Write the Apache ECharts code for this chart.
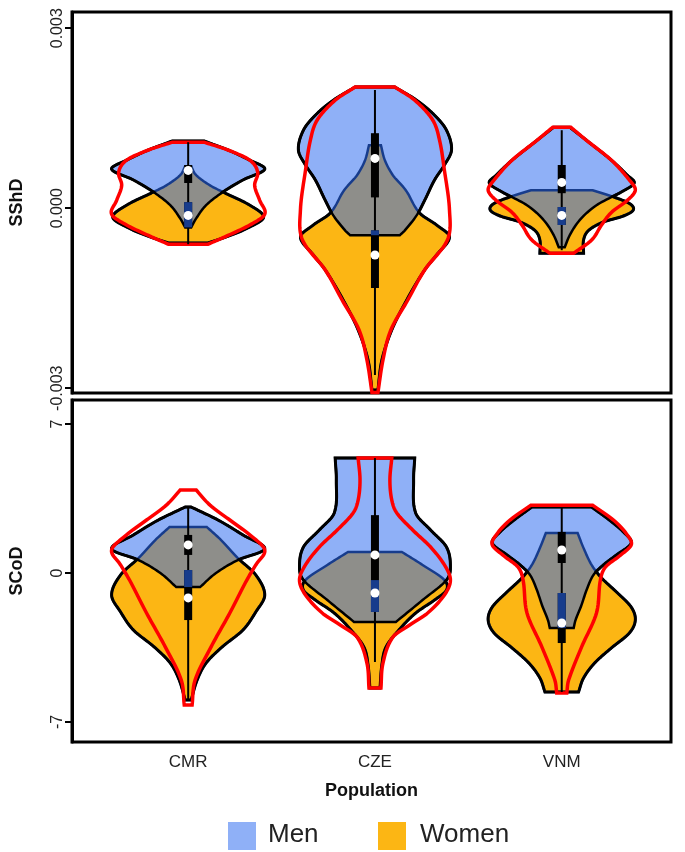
<!DOCTYPE html>
<html>
<head>
<meta charset="utf-8">
<script src="https://cdn.jsdelivr.net/npm/echarts@6/dist/echarts.min.js"></script>
<style>html,body{margin:0;padding:0;background:#fff}#main{width:685px;height:852px}</style>
</head>
<body>
<div id="main"></div>
<script>
const populations = ['CMR', 'CZE', 'VNM'];

// violin outlines: [value, half width in category units], top to bottom
const sshdMen = [
  [[0.00112,0.085],[0.00097,0.213],[0.00080,0.33],[0.00065,0.41],[0.00047,0.293],[0.00027,0.186],[0.00005,0.096],[-0.00017,0.043],[-0.00032,0.016]],
  [[0.00202,0.106],[0.00180,0.223],[0.00155,0.319],[0.00130,0.383],[0.00097,0.41],[0.00072,0.372],[0.00047,0.319],[0.00013,0.266],[-0.00012,0.223],[-0.00037,0.16],[-0.00045,0.133]],
  [[0.00135,0.043],[0.00113,0.133],[0.00080,0.266],[0.00055,0.351],[0.00042,0.388],[0.00027,0.319],[0.00005,0.186],[-0.00020,0.096],[-0.00045,0.043],[-0.00065,0.016]]
];
const sshdWomen = [
  [[0.00070,0.016],[0.00055,0.043],[0.00038,0.117],[0.00027,0.186],[0.00005,0.33],[-0.00015,0.404],[-0.00033,0.319],[-0.00048,0.202],[-0.00058,0.106]],
  [[0.00105,0.032],[0.00080,0.053],[0.00055,0.096],[0.00030,0.165],[-0.00008,0.239],[-0.00028,0.33],[-0.00048,0.399],[-0.00078,0.33],[-0.00103,0.266],[-0.00153,0.17],[-0.00203,0.09],[-0.00253,0.037],[-0.00303,0.016]],
  [[0.00030,0.165],[0.00020,0.266],[0.00008,0.362],[-0.00003,0.383],[-0.00013,0.33],[-0.00023,0.223],[-0.00037,0.144],[-0.00053,0.117],[-0.00075,0.117]]
];
const sshdPooled = [
  [[0.00110,0.085],[0.00097,0.213],[0.00080,0.33],[0.00060,0.372],[0.00038,0.356],[0.00013,0.383],[-0.00010,0.41],[-0.00028,0.33],[-0.00047,0.202],[-0.00060,0.106]],
  [[0.00202,0.106],[0.00180,0.213],[0.00147,0.309],[0.00113,0.346],[0.00063,0.372],[-0.00003,0.399],[-0.00053,0.388],[-0.00103,0.266],[-0.00153,0.176],[-0.00203,0.085],[-0.00253,0.043],[-0.00307,0.016]],
  [[0.00135,0.048],[0.00113,0.133],[0.00080,0.266],[0.00047,0.362],[0.00030,0.394],[0.00013,0.351],[-0.00007,0.266],[-0.00028,0.213],[-0.00053,0.16],[-0.00075,0.064]]
];
// boxes: [whisker top, q3, median, q1, whisker bottom]
const sshdMenBox = [[0.00110,0.00072,0.00063,0.00042,0.00042],[0.00197,0.00125,0.00083,0.00018,0.00018],[0.00130,0.00072,0.00043,0.00025,0.00025]];
const sshdWomenBox = [[0.00010,0.00010,-0.00012,-0.00032,-0.00060],[-0.00037,-0.00037,-0.00078,-0.00133,-0.00278],[0.00002,0.00002,-0.00012,-0.00028,-0.00070]];

const scodMen = [
  [[3.10,0.016],[2.49,0.16],[1.79,0.293],[1.13,0.41],[0.61,0.266],[0,0.149],[-0.66,0.064]],
  [[5.40,0.213],[4.37,0.207],[2.82,0.218],[2.02,0.298],[1.22,0.383],[0.28,0.404],[-0.33,0.383],[-1.27,0.255],[-2.30,0.112]],
  [[3.10,0.16],[2.49,0.255],[1.93,0.33],[1.41,0.372],[0.85,0.293],[0.38,0.223],[-0.09,0.17],[-0.80,0.133],[-1.50,0.106],[-2.21,0.074],[-2.58,0.064]]
];
const scodWomen = [
  [[2.16,0.10],[1.55,0.176],[0.70,0.266],[-0.09,0.362],[-1.03,0.41],[-1.83,0.362],[-2.68,0.293],[-3.48,0.181],[-4.23,0.096],[-5.03,0.048],[-5.97,0.016]],
  [[0.99,0.144],[0.38,0.255],[-0.33,0.372],[-0.80,0.383],[-1.27,0.319],[-1.88,0.218],[-2.68,0.128],[-3.48,0.059],[-4.32,0.037],[-5.40,0.027]],
  [[1.88,0.085],[1.17,0.117],[0.38,0.16],[-0.23,0.213],[-0.89,0.293],[-1.60,0.372],[-2.21,0.394],[-2.82,0.362],[-3.52,0.266],[-4.23,0.176],[-4.93,0.117],[-5.59,0.09]]
];
const scodPooled = [
  [[3.90,0.043],[3.19,0.117],[2.49,0.223],[1.79,0.33],[1.08,0.41],[0.38,0.362],[-0.33,0.314],[-1.88,0.223],[-3.48,0.122],[-5.03,0.037],[-6.20,0.021]],
  [[5.40,0.09],[4.37,0.08],[3.43,0.09],[2.82,0.117],[2.02,0.202],[1.22,0.298],[0.38,0.372],[-0.33,0.404],[-1.03,0.372],[-1.88,0.282],[-2.44,0.186],[-3.01,0.096],[-4.23,0.043],[-5.40,0.032]],
  [[3.19,0.165],[2.49,0.277],[1.79,0.351],[1.32,0.372],[0.80,0.309],[0.28,0.234],[-0.33,0.207],[-1.88,0.186],[-3.48,0.106],[-5.03,0.037],[-5.64,0.027]]
];
const scodMenBox = [[3.10,1.79,1.32,0.85,0.85],[5.40,2.72,0.85,-0.33,-0.33],[3.10,1.93,1.08,0.47,0.47]];
const scodWomenBox = [[0.14,0.14,-1.17,-2.21,-5.97],[-0.33,-0.33,-0.94,-1.83,-4.18],[-0.94,-0.94,-2.35,-3.29,-5.59]];

const BLUE = '#8fb0f7', ORANGE = '#fcb614', GREY = '#8e8e8a', NAVY = '#173c8c', RED = '#ff0000';

// smooth outline: cubic Hermite of width along value
function smooth(shape) {
  const n = shape.length, out = [];
  const tan = i => {
    const a = shape[Math.max(0, i - 1)], b = shape[Math.min(n - 1, i + 1)];
    return (b[1] - a[1]) / (b[0] - a[0]);
  };
  for (let i = 0; i < n - 1; i++) {
    const p = shape[i], q = shape[i + 1], h = q[0] - p[0];
    const m0 = tan(i) * h, m1 = tan(i + 1) * h;
    for (let s = 0; s < 12; s++) {
      const t = s / 12, t2 = t * t, t3 = t2 * t;
      const w = (2*t3 - 3*t2 + 1) * p[1] + (t3 - 2*t2 + t) * m0 + (-2*t3 + 3*t2) * q[1] + (t3 - t2) * m1;
      out.push([p[0] + t * h, Math.max(0.01, w)]);
    }
  }
  out.push(shape[n - 1]);
  return out;
}
function hwAt(shape, v) {
  const n = shape.length;
  if (v > shape[0][0] + 1e-12 || v < shape[n - 1][0] - 1e-12) return 0;
  for (let i = 0; i < n - 1; i++) {
    const a = shape[i], b = shape[i + 1];
    if (v <= a[0] + 1e-12 && v >= b[0] - 1e-12) {
      const t = a[0] === b[0] ? 0 : (a[0] - v) / (a[0] - b[0]);
      return a[1] + t * (b[1] - a[1]);
    }
  }
  return shape[n - 1][1];
}
function grid(lo, hi, shapes) {
  let vs = [];
  for (let i = 0; i <= 200; i++) vs.push(hi - (hi - lo) * i / 200);
  shapes.forEach(s => s.forEach(p => { if (p[0] <= hi && p[0] >= lo) vs.push(p[0]); }));
  return vs.sort((a, b) => b - a);
}
function combine(a, b, fn, inter) {
  const lo = inter ? Math.max(a[a.length-1][0], b[b.length-1][0]) : Math.min(a[a.length-1][0], b[b.length-1][0]);
  const hi = inter ? Math.min(a[0][0], b[0][0]) : Math.max(a[0][0], b[0][0]);
  if (lo >= hi) return null;
  return grid(lo, hi, [a, b]).map(v => [v, fn(hwAt(a, v), hwAt(b, v))]);
}
function pts(api, cx, s) {
  const r = s.map(p => api.coord([cx + p[1], p[0]]));
  const l = s.slice().reverse().map(p => api.coord([cx - p[1], p[0]]));
  return r.concat(l);
}
function makeRender(men, women, pooled, menBox, womenBox) {
  return function (params, api) {
    const ch = [];
    for (let k = 0; k < 3; k++) {
      const cx = k + 1;
      const m = smooth(men[k]), w = smooth(women[k]), pl = smooth(pooled[k]);
      const inter = combine(m, w, Math.min, true);
      const uni = combine(m, w, Math.max, false);
      ch.push({type: 'polygon', shape: {points: pts(api, cx, w)}, style: {fill: ORANGE}});
      ch.push({type: 'polygon', shape: {points: pts(api, cx, m)}, style: {fill: BLUE}});
      if (inter) ch.push({type: 'polygon', shape: {points: pts(api, cx, inter)}, style: {fill: GREY}});
      ch.push({type: 'polygon', shape: {points: pts(api, cx, w)}, style: {fill: null, stroke: NAVY, lineWidth: 2.5}});
      ch.push({type: 'polygon', shape: {points: pts(api, cx, m)}, style: {fill: null, stroke: '#000', lineWidth: 2.5}});
      ch.push({type: 'polygon', shape: {points: pts(api, cx, uni)}, style: {fill: null, stroke: '#000', lineWidth: 3}});
      ch.push({type: 'polygon', shape: {points: pts(api, cx, pl)}, style: {fill: null, stroke: RED, lineWidth: 3.5}});
      const mb = menBox[k], wb = womenBox[k];
      const top = Math.max(mb[0], wb[0]), bot = Math.min(mb[4], wb[4]);
      const p1 = api.coord([cx, top]), p2 = api.coord([cx, bot]);
      ch.push({type: 'line', shape: {x1: p1[0], y1: p1[1], x2: p2[0], y2: p2[1]}, style: {stroke: '#000', lineWidth: 2}});
      // women box: navy part inside men's violin, black below
      const mBottom = m[m.length - 1][0];
      const a = api.coord([cx, wb[1]]), b = api.coord([cx, wb[3]]);
      ch.push({type: 'line', shape: {x1: a[0], y1: a[1], x2: b[0], y2: b[1]}, style: {stroke: '#000', lineWidth: 8}});
      if (wb[1] > mBottom) {
        const c = api.coord([cx, Math.max(mBottom, wb[3])]);
        ch.push({type: 'line', shape: {x1: a[0], y1: a[1], x2: c[0], y2: c[1]}, style: {stroke: NAVY, lineWidth: 8}});
      }
      const ma = api.coord([cx, mb[1]]), mbb = api.coord([cx, mb[3]]);
      ch.push({type: 'line', shape: {x1: ma[0], y1: ma[1], x2: mbb[0], y2: mbb[1]}, style: {stroke: '#000', lineWidth: 8}});
      [mb[2], wb[2]].forEach(md => {
        const c = api.coord([cx, md]);
        ch.push({type: 'circle', shape: {cx: c[0], cy: c[1], r: 4.5}, style: {fill: '#fff'}});
      });
    }
    return {type: 'group', children: ch};
  };
}

const chart = echarts.init(document.getElementById('main'));
const xCommon = {type: 'value', min: 0.378, max: 3.585, splitLine: {show: false}, axisLine: {show: false}};
const yCommon = {
  type: 'value', splitLine: {show: false},
  axisLine: {show: true, lineStyle: {color: '#000', width: 3}},
  axisTick: {show: true, length: 7, lineStyle: {color: '#000', width: 2}},
  axisLabel: {rotate: 90, margin: 6, color: '#222', fontSize: 16, fontFamily: 'Liberation Sans'},
  nameLocation: 'middle', nameGap: 46,
  nameTextStyle: {fontWeight: 'bold', fontSize: 18, color: '#111', fontFamily: 'Liberation Sans'}
};
chart.setOption({
  animation: false,
  grid: [
    {left: 68, top: 12, width: 603, height: 381, show: true, borderColor: '#000', borderWidth: 3},
    {left: 68, top: 400, width: 603, height: 342, show: true, borderColor: '#000', borderWidth: 3}
  ],
  xAxis: [
    Object.assign({gridIndex: 0, axisLabel: {show: false}, axisTick: {show: false}}, xCommon),
    Object.assign({gridIndex: 1,
      axisLabel: {customValues: [1, 2, 3], formatter: v => populations[Math.round(v) - 1], color: '#222', fontSize: 17, margin: 12, fontFamily: 'Liberation Sans'},
      axisTick: {show: true, customValues: [1, 2, 3], length: 7, lineStyle: {color: '#000', width: 2}},
      name: 'Population', nameLocation: 'middle', nameGap: 40,
      nameTextStyle: {fontWeight: 'bold', fontSize: 18, color: '#111', fontFamily: 'Liberation Sans'}}, xCommon)
  ],
  yAxis: [
    Object.assign({}, yCommon, {gridIndex: 0, min: -0.00308, max: 0.00327, name: 'SShD',
      axisLabel: Object.assign({}, yCommon.axisLabel, {customValues: [-0.003, 0, 0.003], formatter: v => v.toFixed(3)}),
      axisTick: Object.assign({}, yCommon.axisTick, {customValues: [-0.003, 0, 0.003]})}),
    Object.assign({}, yCommon, {gridIndex: 1, min: -7.94, max: 8.13, name: 'SCoD',
      axisLabel: Object.assign({}, yCommon.axisLabel, {customValues: [-7, 0, 7], formatter: v => String(v)}),
      axisTick: Object.assign({}, yCommon.axisTick, {customValues: [-7, 0, 7]})})
  ],
  series: [
    {type: 'custom', xAxisIndex: 0, yAxisIndex: 0, data: [[1, 0]], clip: false,
      renderItem: makeRender(sshdMen, sshdWomen, sshdPooled, sshdMenBox, sshdWomenBox)},
    {type: 'custom', xAxisIndex: 1, yAxisIndex: 1, data: [[1, 0]], clip: false,
      renderItem: makeRender(scodMen, scodWomen, scodPooled, scodMenBox, scodWomenBox)}
  ],
  graphic: [
    {type: 'rect', left: 228, top: 822, shape: {width: 28, height: 28}, style: {fill: BLUE}},
    {type: 'text', left: 268, top: 822, style: {text: 'Men', fontSize: 26, fill: '#222', font: '26px Liberation Sans'}},
    {type: 'rect', left: 378, top: 822, shape: {width: 28, height: 28}, style: {fill: ORANGE}},
    {type: 'text', left: 420, top: 822, style: {text: 'Women', fontSize: 26, fill: '#222', font: '26px Liberation Sans'}}
  ]
});
</script>
</body>
</html>
